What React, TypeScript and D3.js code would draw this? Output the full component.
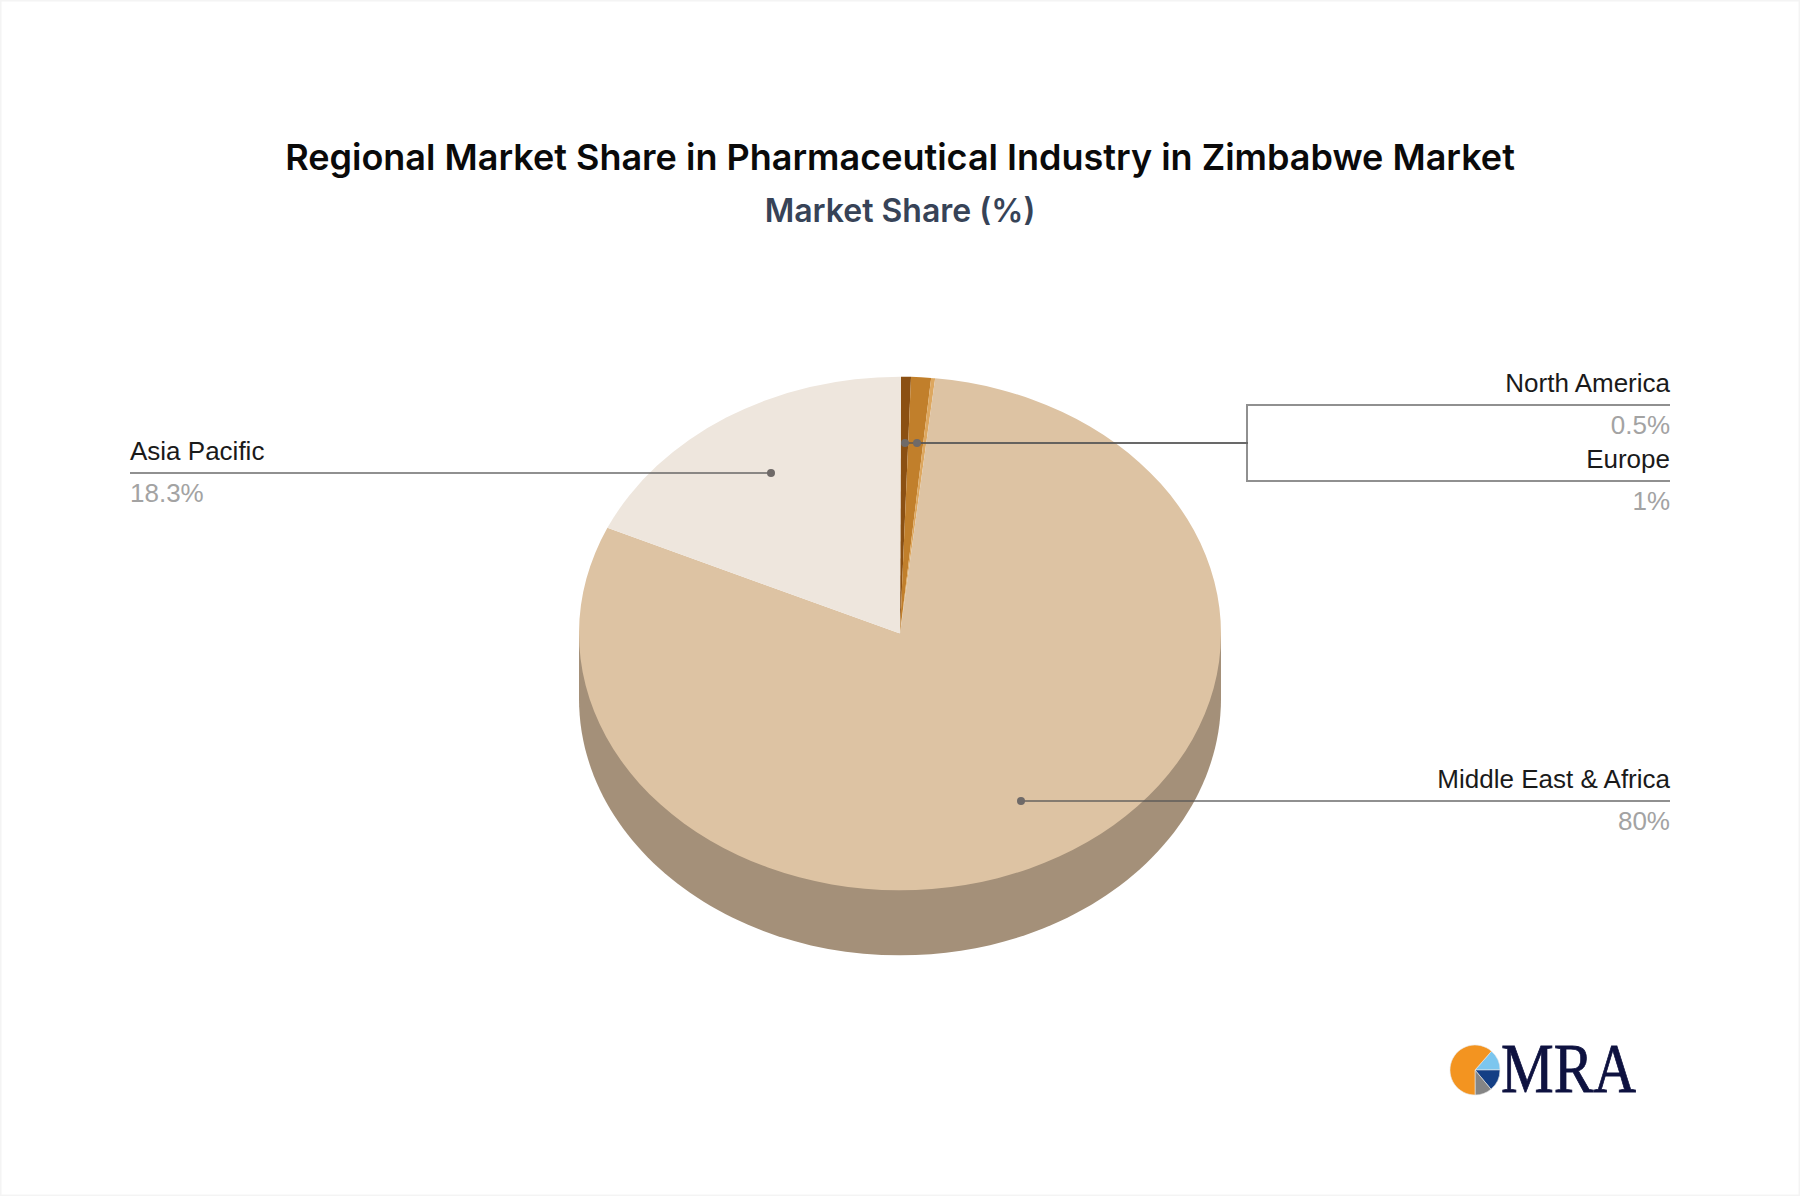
import React from "react";
import * as d3 from "d3";

const regions = ["North America", "Europe", "South America", "Middle East & Africa", "Asia Pacific"];
const shares = [0.5, 1, 0.2, 80, 18.3];
const shareLabels = ["0.5%", "1%", "", "80%", "18.3%"];
const sliceColors = ["#8B5013", "#C17F2B", "#DDA75F", "#DDC3A3", "#EEE6DD"];
const sideColor = "#A49079";
const logoShares = [13.5, 14, 11, 61.5];
const logoColors = ["#7CC6EE", "#143F85", "#858585", "#F39420"];

const W = 1800, H = 1196;
const cx = 900, cy = 633.5, R = 321, tilt = 0.8, depth = 65;
const FONT = "'Liberation Sans', Arial, sans-serif";

export default function App() {
  const pie = d3.pie<number>().sort(null).startAngle(0.003).endAngle(0.003 + 2 * Math.PI).value((d) => d)(shares);
  const arc = d3.arc<d3.PieArcDatum<number>>().innerRadius(0).outerRadius(R);
  const side = d3.path();
  const k = 0.5523;
  side.moveTo(cx + R, cy);
  side.lineTo(cx + R, cy + depth);
  side.bezierCurveTo(cx + R, cy + depth + R * tilt * k, cx + R * k, cy + depth + R * tilt, cx, cy + depth + R * tilt);
  side.bezierCurveTo(cx - R * k, cy + depth + R * tilt, cx - R, cy + depth + R * tilt * k, cx - R, cy + depth);
  side.lineTo(cx - R, cy);
  side.closePath();

  const logoPie = d3.pie<number>().sort(null).startAngle(0.72).endAngle(0.72 + 2 * Math.PI).value((d) => d)(logoShares);
  const logoArc = d3.arc<d3.PieArcDatum<number>>().innerRadius(0).outerRadius(25);

  const dot = "#6f6a68";
  const name = (t: string, x: number, y: number, anchor: string) => (
    <text x={x} y={y} textAnchor={anchor} fontFamily={FONT} fontSize={26} fill="#1a1a1a">{t}</text>
  );
  const val = (t: string, x: number, y: number, anchor: string) => (
    <text x={x} y={y} textAnchor={anchor} fontFamily={FONT} fontSize={26} fill="#a3a3a3">{t}</text>
  );
  const ptY = 443;
  const naX = 905, euX = 917;
  const meX = 1021, meY = 801;
  const apX = 771, apY = 473;

  return (
    <svg width={W} height={H} viewBox={`0 0 ${W} ${H}`} style={{ position: "absolute", left: 0, top: 0 }}>
      <rect x={0} y={0} width={W} height={H} fill="#fff" />
      <rect x={0.75} y={0.75} width={W - 1.5} height={H - 1.5} fill="none" stroke="#f4f4f4" strokeWidth={1.5} />
      <text x={900} y={170} textAnchor="middle" fontFamily="Inter" fontWeight={600} fontSize={36} fill="#0a0a0a">Regional Market Share in Pharmaceutical Industry in Zimbabwe Market</text>
      <text x={900} y={222} textAnchor="middle" fontFamily="Inter" fontWeight={600} fontSize={32} fill="#374357">Market Share (%)</text>

      <path d={side.toString()} fill={sideColor} />
      <g transform={`translate(${cx},${cy}) scale(1,${tilt})`}>
        {pie.map((s, i) => (
          <path key={regions[i]} d={arc(s) || ""} fill={sliceColors[i]} />
        ))}
      </g>

      <g fill="none" stroke="#555" strokeOpacity={0.65} strokeWidth={2}>
        <path d={`M${naX},${ptY}H1247V405H1670`} />
        <path d={`M${euX},${ptY}H1247V481H1670`} />
        <path d={`M${apX},${apY}H130`} />
        <path d={`M${meX},${meY}H1670`} />
      </g>
      <g fill={dot}>
        <circle cx={naX} cy={ptY} r={4} />
        <circle cx={euX} cy={ptY} r={4} />
        <circle cx={apX} cy={apY} r={4} />
        <circle cx={meX} cy={meY} r={4} />
      </g>

      {name(regions[0], 1670, 392, "end")}
      {val(shareLabels[0], 1670, 434, "end")}
      {name(regions[1], 1670, 468, "end")}
      {val(shareLabels[1], 1670, 510, "end")}
      {name(regions[3], 1670, 788, "end")}
      {val(shareLabels[3], 1670, 830, "end")}
      {name(regions[4], 130, 460, "start")}
      {val(shareLabels[4], 130, 502, "start")}

      <g transform="translate(1475,1070)">
        {logoPie.map((s, i) => (
          <path key={i} d={logoArc(s) || ""} fill={logoColors[i]} stroke="#e8e8e8" strokeWidth={0.6} />
        ))}
      </g>
      <text x={1501} y={1092} fontFamily="'Liberation Serif', serif" fontSize={70} fill="#0E1240" stroke="#0E1240" strokeWidth={0.8} textLength={135} lengthAdjust="spacingAndGlyphs">MRA</text>
    </svg>
  );
}
